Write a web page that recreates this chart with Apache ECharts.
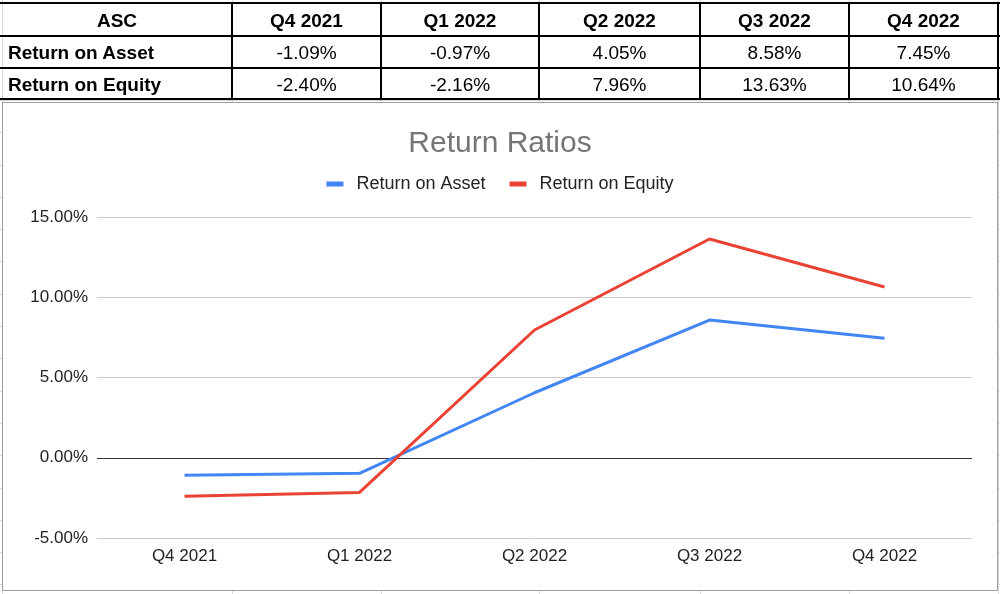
<!DOCTYPE html>
<html>
<head>
<meta charset="utf-8">
<script src="https://cdn.jsdelivr.net/npm/echarts@6/dist/echarts.min.js"></script>
<style>
  html, body { margin: 0; padding: 0; background: #fff; }
  body { width: 1000px; height: 594px; position: relative; overflow: hidden; font-family: "Liberation Sans", Arial, sans-serif; }
  .gl { position: absolute; background: #d9d9d9; }
  .bl { position: absolute; background: #000; }
  .cell { position: absolute; font-size: 19px; color: #000; line-height: 32px; white-space: nowrap; }
  #box { position: absolute; left: 2px; top: 102px; width: 994px; height: 487px; border: 1px solid #9e9e9e; background: #fff; }
  #chart { position: absolute; left: 0; top: 0; width: 1000px; height: 594px; }
</style>
</head>
<body>
<div id="bg"></div>
<div id="box"></div>
<div id="chart"></div>
<div id="tbl"></div>
<script>
const tableHeader = ["ASC", "Q4 2021", "Q1 2022", "Q2 2022", "Q3 2022", "Q4 2022"];
const categories = ["Q4 2021", "Q1 2022", "Q2 2022", "Q3 2022", "Q4 2022"];
const seriesNames = ["Return on Asset", "Return on Equity"];
const returnOnAsset = [-1.09, -0.97, 4.05, 8.58, 7.45];
const returnOnEquity = [-2.40, -2.16, 7.96, 13.63, 10.64];
const yTicks = [-5, 0, 5, 10, 15];

// spreadsheet background grid
const colX = [2, 232, 381, 539, 700, 849, 998];
const rowY = [3, 36, 68, 99];
const bg = document.getElementById('bg');
for (const x of colX) { const d = document.createElement('div'); d.className = 'gl'; d.style.left = x + 'px'; d.style.top = '0px'; d.style.width = '1px'; d.style.height = '594px'; bg.appendChild(d); }
for (let y = 3; y < 594; y += 32.3) { const d = document.createElement('div'); d.className = 'gl'; d.style.left = '0px'; d.style.top = Math.round(y) + 'px'; d.style.width = '1000px'; d.style.height = '1px'; bg.appendChild(d); }

// table
const tbl = document.getElementById('tbl');
const rows = [tableHeader,
  [seriesNames[0]].concat(returnOnAsset.map(v => v.toFixed(2) + '%')),
  [seriesNames[1]].concat(returnOnEquity.map(v => v.toFixed(2) + '%'))];
rows.forEach((r, ri) => {
  r.forEach((t, ci) => {
    const d = document.createElement('div');
    d.className = 'cell';
    d.textContent = t;
    const x0 = colX[ci], x1 = colX[ci + 1];
    d.style.top = (rowY[ri] + 1) + 'px';
    d.style.height = (rowY[ri + 1] - rowY[ri]) + 'px';
    d.style.lineHeight = (rowY[ri + 1] - rowY[ri]) + 'px';
    if (ri === 0 || ci === 0) d.style.fontWeight = 'bold';
    if (ci === 0 && ri > 0) { d.style.left = (x0 + 6) + 'px'; }
    else { d.style.left = x0 + 'px'; d.style.width = (x1 - x0) + 'px'; d.style.textAlign = 'center'; }
    tbl.appendChild(d);
  });
});
for (const y of rowY) { const d = document.createElement('div'); d.className = 'bl'; d.style.left = '0px'; d.style.top = (y - 1) + 'px'; d.style.width = '1000px'; d.style.height = '2px'; tbl.appendChild(d); }
for (const x of colX.slice(1)) { const d = document.createElement('div'); d.className = 'bl'; d.style.left = (x - 1) + 'px'; d.style.top = '2px'; d.style.width = '2px'; d.style.height = '98px'; tbl.appendChild(d); }

const chart = echarts.init(document.getElementById('chart'), null, { renderer: 'canvas' });
chart.setOption({
  backgroundColor: 'transparent',
  animation: false,
  textStyle: { fontFamily: '"Liberation Sans", Arial, sans-serif' },
  title: {
    text: 'Return Ratios', left: 'center', top: 124,
    textStyle: { fontSize: 30, fontWeight: 'normal', color: '#757575' }
  },
  legend: {
    top: 170, left: 'center', itemWidth: 17, itemHeight: 5, itemGap: 24, icon: 'rect',
    textStyle: { fontSize: 18, color: '#222', padding: [0, 0, 0, 8] },
    data: seriesNames
  },
  grid: { left: 97, right: 28, top: 217, bottom: 56, containLabel: false },
  xAxis: {
    type: 'category', data: categories, boundaryGap: true,
    axisLine: { show: false }, axisTick: { show: false },
    axisLabel: { fontSize: 17, color: '#222', margin: 10 }
  },
  yAxis: {
    type: 'value', min: -5, max: 15, interval: 5,
    axisLine: { show: false }, axisTick: { show: false },
    axisLabel: { fontSize: 17, color: '#222', margin: 9, formatter: v => v.toFixed(2) + '%' },
    splitLine: { lineStyle: { color: yTicks.map(v => v === 0 ? '#333' : '#cccccc'), width: 1 } }
  },
  series: [
    { name: seriesNames[0], type: 'line', data: returnOnAsset, showSymbol: false, symbol: 'none',
      lineStyle: { color: '#4285F4', width: 3 }, itemStyle: { color: '#4285F4' } },
    { name: seriesNames[1], type: 'line', data: returnOnEquity, showSymbol: false, symbol: 'none',
      lineStyle: { color: '#EA4335', width: 3 }, itemStyle: { color: '#EA4335' } }
  ]
});
</script>
</body>
</html>
